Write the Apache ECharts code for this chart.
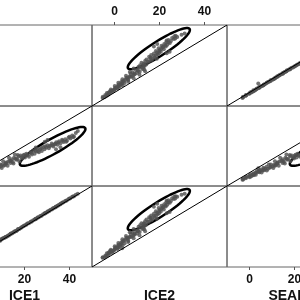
<!DOCTYPE html>
<html>
<head>
<meta charset="utf-8">
<script src="https://cdn.jsdelivr.net/npm/echarts@6/dist/echarts.min.js"></script>
<style>
html, body { margin: 0; padding: 0; width: 300px; height: 300px; overflow: hidden; background: #fff; }
#chart { position: absolute; left: -43px; top: 0; width: 420px; height: 300px; }
</style>
</head>
<body>
<div id="chart"></div>
<script>
// variable names (bottom labels)
var names = ['ICE1', 'ICE2', 'SEAICE'];

// observations, same index = same sample
var ice1 = [-4.0, -3.2, -2.5, -1.8, -1.0, -0.4, 0.3, 1.0, 1.6, 2.2, 2.9, 3.5, 4.1, 4.8, 5.4, 6.0, 6.7, 7.3,
  8.0, 8.6, 9.2, 9.9, 10.5, 11.2, 11.8, 12.5, 13.1, 13.8, 14.4, 15.1, 15.7, 16.4, 17.0, 17.7, 18.3, 19.0,
  0.6, 2.5, 5.0, 7.8, 10.0, 12.0, 14.0, 16.0,
  -3.6, -2.1, -0.7, 0.0, 1.3, 1.9, 3.2, 3.8, 4.5, 5.7, 6.3, 7.0, 8.3, 9.5, 10.8, 11.5, 12.8, 13.5, 14.8, 15.4,
  16.8, 17.4, 18.6, 19.8,
  19.5, 20.2, 20.8, 21.5, 22.0, 22.7, 23.3, 23.9, 24.5, 25.2, 25.8, 26.4, 27.0, 27.7, 28.3, 28.9, 29.6, 30.2, 30.8,
  31.5, 32.1, 32.8, 33.4, 34.1, 34.7, 35.4, 36.0, 36.7, 37.4, 38.1, 38.9, 39.6, 40.4, 41.2, 42.0, 42.8, 43.7,
  21.0, 23.0, 24.8, 26.0, 27.4, 29.2, 31.0, 32.5, 33.8, 35.0, 37.0, 38.5, 40.0, 41.6,
  34.0, 36.0, 25.0, 30.2, 29.0];
var ice2 = [-5.3, -5.2, -3.7, -4.1, -2.8, -3.4, -1.1, -2.0, -0.6, -1.6, 1.3, 0.3, 1.7, 0.1, 3.6, 1.8, 3.4, 1.7,
  6.1, 4.2, 6.1, 3.5, 8.5, 5.7, 7.7, 5.1, 11.1, 7.2, 10.0, 6.8, 13.6, 9.6, 13.2, 8.5, 12.8, 10.7,
  -1.8, 0.0, 1.6, 3.0, 6.0, 6.8, 8.8, 10.5,
  -4.4, -3.0, -2.2, -2.6, -1.2, -0.1, 0.6, 1.0, 2.3, 2.6, 3.0, 4.5, 3.6, 4.8, 5.2, 6.9, 8.4, 9.0, 8.0, 11.2,
  10.3, 12.4, 11.6, 13.4,
  12.9, 11.4, 14.1, 13.2, 12.0, 15.3, 13.6, 16.4, 14.2, 15.9, 17.8, 15.4, 17.6, 16.3, 19.2, 17.5, 18.9, 20.6, 18.4,
  20.1, 21.9, 19.6, 21.4, 22.8, 20.9, 23.5, 22.1, 24.6, 23.0, 25.1, 24.0, 26.4, 25.6, 27.9, 27.2, 29.8, 31.2,
  12.8, 14.8, 16.8, 16.1, 18.5, 19.8, 19.9, 20.8, 21.6, 22.6, 23.9, 23.2, 27.0, 26.6,
  17.5, 19.0, 18.8, 24.5, 23.2];
var seaice = [-3.1, -2.8, -1.8, -1.6, -0.2, 0.1, 0.6, 1.9, 1.7, 2.8, 3.3, 4.4, 4.3, 5.4, 6.2, 6.5, 3.9, 7.7,
  8.6, 9.4, 9.5, 10.6, 11.3, 11.6, 12.5, 13.0, 13.6, 14.7, 14.8, 15.7, 16.4, 16.7, 17.9, 18.2, 18.8, 19.8,
  1.3, 3.0, 5.8, 8.2, 10.9, 12.4, 14.9, 16.5,
  -2.9, -1.4, 0.0, 0.8, 1.9, 2.6, 3.9, 4.5, 5.0, 6.3, 7.0, 7.6, 9.0, 10.2, 11.4, 12.2, 13.3, 14.1, 15.3, 16.0,
  17.3, 18.1, 19.3, 20.5,
  20.1, 20.9, 21.3, 22.4, 22.5, 23.5, 23.8, 24.7, 25.1, 25.8, 26.7, 26.9, 27.8, 28.2, 29.1, 29.5, 30.2, 31.1, 31.3,
  32.4, 32.6, 33.7, 33.9, 34.8, 35.3, 36.1, 36.5, 37.6, 37.9, 38.9, 39.4, 40.3, 40.9, 42.0, 42.4, 43.6, 44.3,
  21.8, 23.6, 25.4, 26.6, 28.0, 29.9, 31.7, 33.1, 34.5, 35.6, 37.8, 39.1, 40.7, 42.3,
  34.6, 36.9, 25.7, 30.8, 29.9];

// axis range + ticks
var axisRange = [-10, 50];
var tickValues = [0, 20, 40];

// ellipse drawn over ICE-vs-ICE2 panels: major axis ends [ice1-like, ice2]
var ellipseTipA = [18, 6];
var ellipseTipB = [47, 33.4];
var ellipseRatio = 0.2;

var vars = [ice1, ice2, seaice];
var chart = echarts.init(document.getElementById('chart'));

var cellW = 135;
var rowTop = [25, 106, 186];
var rowH = [81, 80, 81];

var grids = [], xAxes = [], yAxes = [], series = [], graphics = [];
var labelStyle = { fontSize: 12, fontWeight: 'bold', color: '#111', fontFamily: 'Liberation Sans' };

function ellipseItem(params, api) {
  var p0 = api.coord([api.value(0), api.value(1)]);
  var p1 = api.coord([api.value(2), api.value(3)]);
  var cx = (p0[0] + p1[0]) / 2, cy = (p0[1] + p1[1]) / 2;
  var dx = (p1[0] - p0[0]) / 2, dy = (p1[1] - p0[1]) / 2;
  var a = Math.sqrt(dx * dx + dy * dy), b = a * ellipseRatio;
  var ang = Math.atan2(dy, dx);
  var pts = [];
  for (var k = 0; k < 72; k++) {
    var t = k / 72 * Math.PI * 2;
    var ex = a * Math.cos(t), ey = b * Math.sin(t);
    pts.push([cx + ex * Math.cos(ang) - ey * Math.sin(ang), cy + ex * Math.sin(ang) + ey * Math.cos(ang)]);
  }
  return { type: 'polygon', shape: { points: pts }, style: { fill: 'none', stroke: '#000', lineWidth: 2.5 } };
}

for (var r = 0; r < 3; r++) {
  for (var c = 0; c < 3; c++) {
    var i = r * 3 + c;
    grids.push({ left: c * cellW, top: rowTop[r], width: cellW, height: rowH[r],
      show: true, borderColor: '#666', borderWidth: 1 });
    var topAxis = (r === 0 && c === 1);
    var bottomAxis = (r === 2 && c !== 1);
    var showLab = topAxis || bottomAxis;
    xAxes.push({ gridIndex: i, type: 'value', min: axisRange[0], max: axisRange[1],
      position: topAxis ? 'top' : 'bottom',
      axisLine: { show: false, onZero: false }, splitLine: { show: false },
      axisTick: { show: showLab, length: 3, customValues: tickValues, lineStyle: { color: '#555' } },
      axisLabel: Object.assign({ show: showLab, customValues: tickValues, margin: 7 }, labelStyle) });
    yAxes.push({ gridIndex: i, type: 'value', min: axisRange[0], max: axisRange[1], show: false,
      axisLine: { onZero: false } });
    if (r === c) continue;
    var xs = vars[c], ys = vars[r];
    series.push({ type: 'scatter', xAxisIndex: i, yAxisIndex: i, symbolSize: 4,
      itemStyle: { color: '#505050' }, data: xs.map(function (v, k) { return [v, ys[k]]; }) });
    series.push({ type: 'line', xAxisIndex: i, yAxisIndex: i, symbol: 'none', silent: true,
      lineStyle: { color: '#000', width: 1 },
      data: [[axisRange[0], axisRange[0]], [axisRange[1], axisRange[1]]] });
    // ellipse only on panels pairing ICE2 with ICE1 / SEAICE
    if (r === 1 || c === 1) {
      var tA = c === 1 ? [ellipseTipA[1], ellipseTipA[0]] : ellipseTipA;
      var tB = c === 1 ? [ellipseTipB[1], ellipseTipB[0]] : ellipseTipB;
      series.push({ type: 'custom', xAxisIndex: i, yAxisIndex: i, renderItem: ellipseItem,
        encode: { x: [0, 2], y: [1, 3] }, data: [[tA[0], tA[1], tB[0], tB[1]]] });
    }
  }
}

names.forEach(function (n, k) {
  graphics.push({ type: 'text', x: k * cellW + cellW / 2, y: 289,
    style: { text: n, align: 'center', verticalAlign: 'top', fontSize: 14, fontWeight: 'bold',
      fontFamily: 'Liberation Sans', fill: '#111' } });
});

chart.setOption({
  animation: false,
  grid: grids,
  xAxis: xAxes,
  yAxis: yAxes,
  series: series,
  graphic: graphics
});
</script>
</body>
</html>
